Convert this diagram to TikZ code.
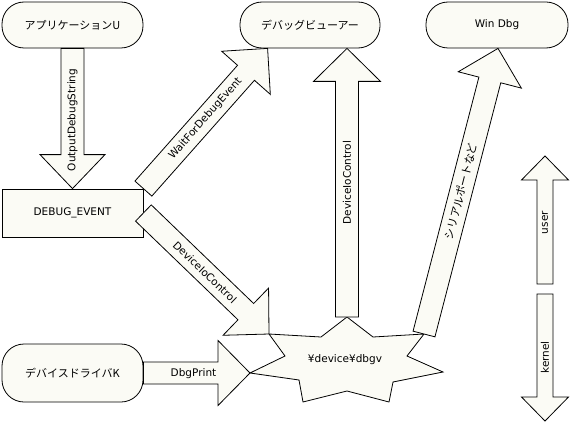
\documentclass[tikz,border=0pt]{standalone}
\usepackage{fontspec}
\setmainfont{DejaVu Sans}
\newfontfamily\jp{Noto Sans CJK JP}
\usetikzlibrary{calc}
\definecolor{fillc}{RGB}{251,251,245}
\tikzset{
  box/.style={draw, fill=fillc, line width=0.8pt, minimum width=141pt, minimum height=46pt, inner sep=0pt, font=\fontsize{10.5}{12}\selectfont},
  stadium/.style={box, rounded corners=22pt},
  arrowbody/.style={draw, fill=fillc, line width=0.8pt, line join=miter},
  lbl/.style={inner sep=0pt, font=\fontsize{10.5}{12}\selectfont},
  jlbl/.style={inner sep=0pt, font=\fontsize{11}{12}\selectfont\jp},
}
\newcommand\blockarrow[5]{%
  \coordinate (ba-c) at ($(#2)!#5!(#1)$);
  \draw[arrowbody] ($(#1)!#3!90:(#2)$) -- ($(ba-c)!#3!-90:(#1)$) -- ($(ba-c)!#4!-90:(#1)$)
    -- (#2) -- ($(ba-c)!#4!90:(#1)$) -- ($(ba-c)!#3!90:(#1)$) -- ($(#1)!#3!-90:(#2)$) -- cycle;
}
\begin{document}
\begin{tikzpicture}[x=1pt, y=-1pt]
\useasboundingbox (0,0) rectangle (572,425);
% boxes
\node[stadium, font=\fontsize{11}{12}\selectfont\jp] (app) at (72.5,25) {アプリケーションU};
\node[stadium, font=\fontsize{11}{12}\selectfont\jp, minimum width=140pt] (viewer) at (310,25) {デバッグビューアー};
\node[stadium, minimum width=142pt] (windbg) at (497,25) {Win Dbg};
\node[box, minimum height=48pt] (evt) at (72.5,213) {DEBUG\_EVENT};
\node[stadium, font=\fontsize{11}{12}\selectfont\jp, minimum height=58pt] (driver) at (72.5,373) {デバイスドライバK};
% star
\coordinate (sL) at (250,373);
\coordinate (s1) at (285,356);
\coordinate (sUL) at (269,334);
\coordinate (s2) at (321,337);
\coordinate (sT) at (347,317);
\coordinate (s3) at (373,337);
\coordinate (sUR) at (424,334);
\coordinate (s4) at (407,356);
\coordinate (sR) at (443,372);
\coordinate (s5) at (393,382);
\coordinate (sLR) at (389,402);
\coordinate (s6) at (347,391);
\coordinate (sLL) at (303,402);
\coordinate (s7) at (299,380);
\draw[arrowbody] (sL) -- (s1) -- (sUL) -- (s2) -- (sT) -- (s3) -- (sUR) -- (s4) -- (sR)
  -- (s5) -- (sLR) -- (s6) -- (sLL) -- (s7) -- cycle;
\node[lbl] (dev) at (345,360) {¥device¥dbgv};
% arrow tips on boxes
\coordinate (bTip) at ([xshift=28pt]viewer.south west);
\coordinate (vTip) at ([xshift=37pt]viewer.south);
\coordinate (wTip) at ([xshift=1pt]windbg.south);
% block arrows
\blockarrow{app.south}{evt.north}{11.5pt}{32.5pt}{34pt}
\blockarrow{evt.north east}{bTip}{11.3pt}{32.5pt}{32.6pt}
\blockarrow{evt.east}{sUL}{11.3pt}{32.8pt}{32.2pt}
\blockarrow{driver.east}{sL}{11pt}{32.5pt}{32pt}
\blockarrow{sT}{vTip}{11.5pt}{33.5pt}{33pt}
\blockarrow{sUR}{wTip}{11.3pt}{32.6pt}{32.6pt}
% user / kernel
\coordinate (u0) at (545,284);
\coordinate (u1) at (545,156);
\coordinate (k0) at (545,294);
\coordinate (k1) at (545,421);
\blockarrow{u0}{u1}{8pt}{23.5pt}{24pt}
\blockarrow{k0}{k1}{8pt}{23.5pt}{24pt}
% labels
\path (app.south) -- (evt.north) node[lbl, pos=0.51, rotate=90] {OutputDebugString};
\path (evt.north east) -- (bTip) node[lbl, pos=0.5, sloped] {WaitForDebugEvent};
\path (evt.east) -- (sUL) node[lbl, pos=0.49, sloped] {DeviceIoControl};
\path (driver.east) -- (sL) node[lbl, pos=0.47, yshift=-1pt] {DbgPrint};
\path (sT) -- (vTip) node[lbl, pos=0.5, rotate=90] {DeviceIoControl};
\path (sUR) -- (wTip) node[jlbl, pos=0.5, sloped] {シリアルポートなど};
\path (u0) -- (u1) node[lbl, pos=0.48, rotate=90] {user};
\path (k0) -- (k1) node[lbl, pos=0.5, rotate=90] {kernel};
\end{tikzpicture}
\end{document}
